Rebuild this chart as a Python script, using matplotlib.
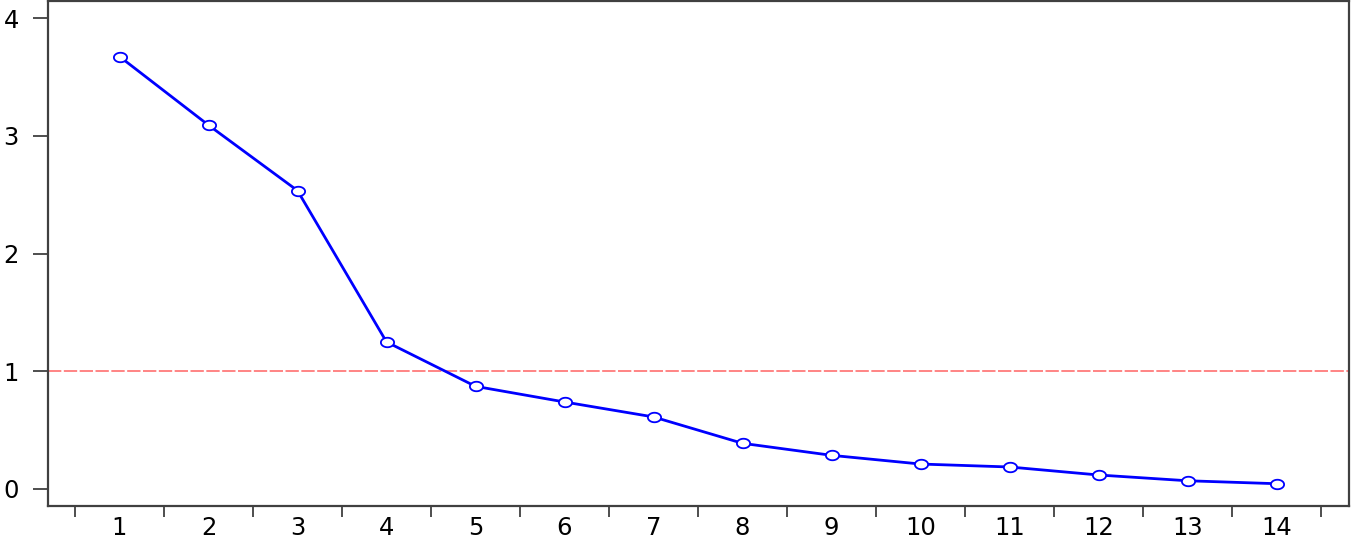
import numpy as np
import matplotlib
matplotlib.use("Agg")
import matplotlib.pyplot as plt
from matplotlib.path import Path

# eigenvalues
components = list(range(1, 15))
eigenvalues = [3.673, 3.09, 2.534, 1.249, 0.872, 0.739, 0.612,
               0.388, 0.286, 0.212, 0.187, 0.119, 0.07, 0.045]
y_ticks = [0, 1, 2, 3, 4]
ref_level = 1.0

plt.rcParams['font.family'] = ['DejaVu Sans']

fig = plt.figure(figsize=(13.51, 5.42), dpi=100)
ax = fig.add_axes([48 / 1351, 36 / 542, 1301 / 1351, 505 / 542])

# slightly flattened open circle, like the original
t = np.linspace(0, 2 * np.pi, 60)
ellipse = Path(np.column_stack([np.cos(t), 0.72 * np.sin(t)]), closed=True)

ax.axhline(ref_level, color='#ff7070', lw=1.2, ls=(0, (8, 1.5)), zorder=1)
ax.plot(components, eigenvalues, color='#0000ff', lw=2.0,
        marker=ellipse, markersize=9.5, markerfacecolor='white',
        markeredgecolor='#0000ff', markeredgewidth=1.3, zorder=3)

ax.set_xlim(0.5 - 27 / 89, 14.5 + 28 / 89)
ax.set_ylim(-(506 - 489) / 117.75, (489 - 1) / 117.75)

# x: ticks on the category boundaries, labels at the centers
ax.set_xticks(np.arange(0.5, 15.0, 1.0))
ax.set_xticklabels([])
ax.set_xticks(components, minor=True)
ax.set_xticklabels([str(c) for c in components], minor=True)
ax.tick_params(axis='x', which='major', direction='out', length=8,
               width=1.3, color='#404040')
ax.tick_params(axis='x', which='minor', length=0, pad=7, labelsize=17.5)

ax.set_yticks(y_ticks)
ax.set_yticklabels([str(v) for v in y_ticks])
ax.tick_params(axis='y', direction='out', length=11, width=1.3,
               color='#404040', pad=10, labelsize=17.5)

for s in ax.spines.values():
    s.set_color('#404040')
    s.set_linewidth(1.6)

fig.savefig('out.png', dpi=100)
